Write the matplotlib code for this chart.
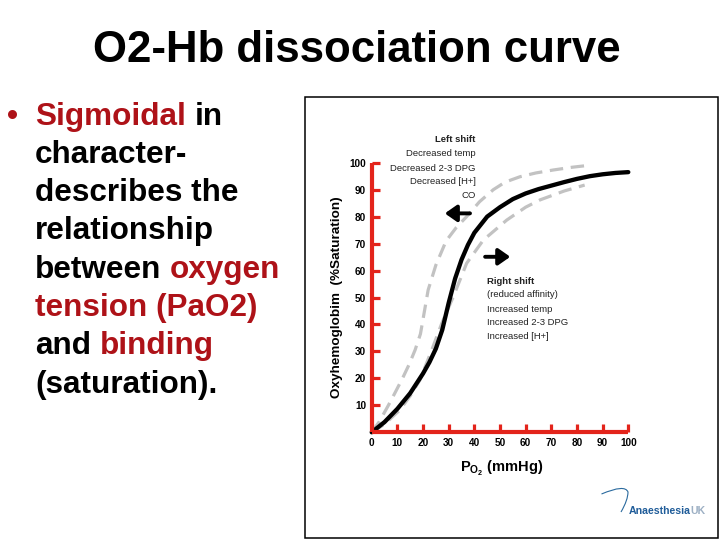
import matplotlib
matplotlib.use("Agg")
import matplotlib.pyplot as plt
from matplotlib.patches import Rectangle, PathPatch
from matplotlib.path import Path

# ---------------- data ----------------
black_x = [0, 5, 10, 15, 20, 22.5, 25, 27.5, 30, 32.5, 35, 37.5, 40, 45, 50, 55, 60, 65, 70, 75, 80, 85, 90, 95, 100]
black_y = [0, 3.8, 8.7, 14.5, 21.8, 26, 31, 38, 48, 57, 64, 69.5, 74, 80, 83.5, 86.5, 88.6, 90.2, 91.5, 92.8, 94, 95, 95.7, 96.2, 96.5]

left_x = [0, 3, 6.5, 9, 12, 14.5, 16.9, 19, 22, 25, 29, 33, 37, 42, 47.4, 52, 57.8, 64, 70.8, 78, 84.4]
left_y = [0, 4, 10, 14.5, 20, 25, 30.5, 36.5, 52.8, 62, 71, 76, 80, 85.5, 90, 92.8, 94.8, 96.2, 97.3, 98.3, 99]

right_x = [0, 5, 11, 15, 18.8, 23.4, 27.3, 31.8, 37, 43.5, 52.6, 60, 65.6, 75, 83]
right_y = [0, 3, 8.3, 13.5, 19.4, 30.5, 40.4, 50.3, 62.7, 71.3, 78.7, 83.5, 86.2, 89.5, 91.7]

x_ticks = [0, 10, 20, 30, 40, 50, 60, 70, 80, 90, 100]
y_ticks = [10, 20, 30, 40, 50, 60, 70, 80, 90, 100]

left_notes = ["Left shift", "Decreased temp", "Decreased 2-3 DPG", "Decreased [H+]", "CO"]
right_notes = ["Right shift", "(reduced affinity)", "Increased temp", "Increased 2-3 DPG", "Increased [H+]"]

title = "O2-Hb dissociation curve"
bullet_lines = [
    [("Sigmoidal", "red"), ("in", "black")],
    [("character-", "black")],
    [("describes the", "black")],
    [("relationship", "black")],
    [("between", "black"), ("oxygen", "red")],
    [("tension (PaO2)", "red")],
    [("and", "black"), ("binding", "red")],
    [("(saturation).", "black")],
]

# ---------------- style ----------------
RED_TXT = "#AE1218"
AX_RED = "#E3241B"
GRAY = "#C2C2C2"
plt.rcParams["font.family"] = ["Liberation Sans", "DejaVu Sans"]
plt.rcParams["mathtext.default"] = "regular"

W, H = 720, 540
fig = plt.figure(figsize=(7.2, 5.4), dpi=100)
renderer = fig.canvas.get_renderer()


def fx(px):
    return px / W


def fy(py):
    return 1 - py / H


# title
fig.text(fx(356.5), fy(61.5), title, ha="center", va="baseline",
         fontsize=31.5, fontweight="bold", color="black")

# bullet text
BFS = 22.7
fig.text(fx(7), fy(124.5), "\u2022", ha="left", va="baseline", fontsize=BFS,
         fontweight="bold", color=RED_TXT)


def text_width(s):
    t = fig.text(0, 0, s, fontsize=BFS, fontweight="bold")
    w = t.get_window_extent(renderer).width
    t.remove()
    return w


line_gap = 38.3
x_start = 35
for i, segs in enumerate(bullet_lines):
    yb = 124.5 + i * line_gap
    first, c0 = segs[0]
    fig.text(fx(x_start), fy(yb), first, ha="left", va="baseline", fontsize=BFS,
             fontweight="bold", color=RED_TXT if c0 == "red" else "black")
    if len(segs) > 1:
        last, c1 = segs[1]
        full = first + " " + last
        xr = x_start + text_width(full)
        fig.text(fx(xr), fy(yb), last, ha="right", va="baseline", fontsize=BFS,
                 fontweight="bold", color=RED_TXT if c1 == "red" else "black")

# frame of the embedded picture
fig.add_artist(Rectangle((fx(304.5), fy(538)), fx(718 - 304.5), (538 - 97) / H,
                         transform=fig.transFigure, fill=False, ec="black", lw=1.1))

# ---------------- chart ----------------
x0, x1 = 371.7, 628.3
y0, y1 = 432.3, 162.7
ax = fig.add_axes([fx(x0), fy(y0), fx(x1 - x0), (y0 - y1) / H])
ax.set_xlim(0, 100)
ax.set_ylim(0, 100)
ax.patch.set_alpha(0)

ax.plot(left_x, left_y, color=GRAY, lw=2.3, dashes=(4.2, 2.4), dash_capstyle="butt",
        clip_on=False)
ax.plot(right_x, right_y, color=GRAY, lw=2.3, dashes=(4.2, 2.4), dash_capstyle="butt",
        clip_on=False)
ax.plot(black_x, black_y, color="black", lw=3.1, solid_capstyle="round", clip_on=False)

for s in ("top", "right"):
    ax.spines[s].set_visible(False)
for s in ("left", "bottom"):
    ax.spines[s].set_color(AX_RED)
    ax.spines[s].set_linewidth(3.0)
    ax.spines[s].set_capstyle("butt")

ax.set_xticks(x_ticks)
ax.set_yticks(y_ticks)
ax.tick_params(axis="both", direction="in", length=5.5, width=2.3, color=AX_RED,
               labelsize=7.2, pad=4)
for lab in ax.get_xticklabels() + ax.get_yticklabels():
    lab.set_fontweight("bold")

ax.set_xlabel("P$_{O_2}$ (mmHg)", fontsize=10.5, fontweight="bold")
ax.xaxis.set_label_coords(0.507, -0.100)
ax.set_ylabel("Oxyhemoglobim  (%Saturation)", fontsize=9.7, fontweight="bold")
ax.yaxis.set_label_coords(-0.111, 0.503)

# annotations
NFS = 6.8
ly = [140, 154, 168.3, 181.7, 195.7]
for i, s in enumerate(left_notes):
    fig.text(fx(475.7), fy(ly[i]), s, ha="right", va="center", fontsize=NFS,
             fontweight="bold" if i == 0 else "normal", color="#222222")
ry = [281.7, 294.3, 309, 322.3, 336.7]
for i, s in enumerate(right_notes):
    fig.text(fx(487.3), fy(ry[i]), s, ha="left", va="center", fontsize=NFS,
             fontweight="bold" if i == 0 else "normal", color="#222222")

arrow_kw = dict(arrowstyle="-|>,head_length=0.5,head_width=0.35", lw=2.8,
                color="black", shrinkA=0, shrinkB=0, mutation_scale=14)
ax.annotate("", xy=(28.5, 81.2), xytext=(38.3, 81.2), arrowprops=arrow_kw,
            annotation_clip=False)
ax.annotate("", xy=(54.0, 65.1), xytext=(44.2, 65.1), arrowprops=arrow_kw,
            annotation_clip=False)

# logo
t1 = fig.text(fx(628.5), fy(514), "Anaesthesia", ha="left", va="baseline",
              fontsize=7.6, fontweight="bold", color="#1F5C99")
bb = t1.get_window_extent(renderer)
fig.text(bb.x1 / W, fy(514), "UK", ha="left", va="baseline",
         fontsize=7.6, fontweight="bold", color="#9DB0C4")
verts = [(fx(601.5), fy(494)), (fx(625), fy(484)), (fx(628), fy(492)),
         (fx(628), fy(500)), (fx(621), fy(512))]
codes = [Path.MOVETO, Path.CURVE3, Path.CURVE3, Path.CURVE3, Path.CURVE3]
fig.add_artist(PathPatch(Path(verts, codes), transform=fig.transFigure, fill=False,
                         ec="#2A6A9E", lw=0.8))

fig.savefig("out.png", dpi=100)
